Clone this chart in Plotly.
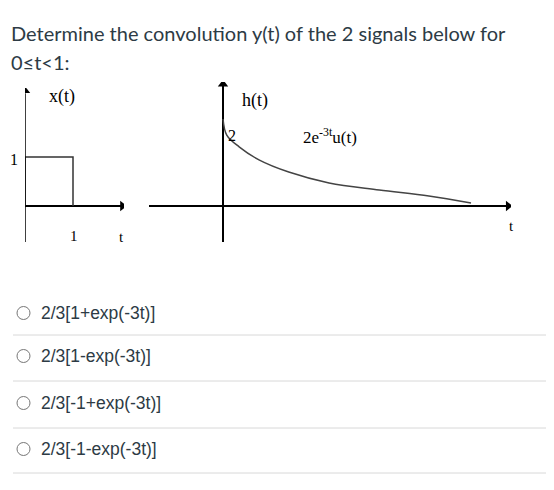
import plotly.graph_objects as go

W, H = 554, 490
x_t = [0, 0, 1, 1]
x_v = [0, 1, 1, 0]
h_t = [0, 0.06, 0.26, 0.58, 1.06, 1.71, 2.52, 3.32, 4.0]
h_v = [2.0, 1.63, 1.36, 1.06, 0.78, 0.53, 0.37, 0.23, 0.07]
title_lines = ["Determine the convolution y(t) of the 2 signals below for", "0≤t<1:"]
options = ["2/3[1+exp(-3t)]", "2/3[1-exp(-3t)]", "2/3[-1+exp(-3t)]", "2/3[-1-exp(-3t)]"]

DX, DY = 9, 8
def px(x): return (x - DX) / W
def py(y): return 1 - (y - DY) / H

fig = go.Figure()
line = dict(color="#333", width=1.5)
fig.add_trace(go.Scatter(x=x_t, y=x_v, mode="lines", line=line, xaxis="x", yaxis="y"))
fig.add_trace(go.Scatter(x=[2.03], y=[0], mode="markers", marker=dict(symbol="triangle-right", size=9, color="black"), xaxis="x", yaxis="y"))
fig.add_trace(go.Scatter(x=[0], y=[2.35], mode="markers", marker=dict(symbol="triangle-up", size=9, color="black"), xaxis="x", yaxis="y"))
fig.add_trace(go.Scatter(x=h_t, y=h_v, mode="lines", line=dict(color="#444", width=1.5, shape="spline"), xaxis="x2", yaxis="y2"))
fig.add_trace(go.Scatter(x=[4.6], y=[0], mode="markers", marker=dict(symbol="triangle-right", size=9, color="black"), xaxis="x2", yaxis="y2"))
fig.add_trace(go.Scatter(x=[0], y=[2.8], mode="markers", marker=dict(symbol="triangle-up", size=9, color="black"), xaxis="x2", yaxis="y2"))

ax = dict(showgrid=False, showticklabels=False, zeroline=True, zerolinecolor="black", zerolinewidth=1.5, fixedrange=True)
fig.update_layout(
    width=W, height=H, margin=dict(l=0, r=0, t=0, b=0), showlegend=False,
    paper_bgcolor="white", plot_bgcolor="rgba(0,0,0,0)",
    xaxis=dict(ax, domain=[px(26), px(125)], range=[0, 2.0625], zeroline=False),
    yaxis=dict(ax, domain=[py(242), py(88)], range=[-0.735, 2.408]),
    xaxis2=dict(ax, domain=[px(150), px(512)], range=[-1.194, 4.645], anchor="y2"),
    yaxis2=dict(ax, domain=[py(242), py(82)], range=[-0.828, 2.851], anchor="x2"),
)
fig.add_shape(type="line", xref="x", yref="y", x0=0, x1=0, y0=-0.735, y1=2.3, line=dict(color="black", width=1.5))

def txt(x, y, s, size=15, family="Liberation Serif", color="black", anchor="left"):
    fig.add_annotation(x=px(x), y=py(y), xref="paper", yref="paper", text=s, showarrow=False,
                       xanchor=anchor, yanchor="middle", font=dict(family=family, size=size, color=color))

sans = "Lato"
txt(10, 33, title_lines[0], 20, sans, "#2d3b45")
txt(10, 62, title_lines[1], 20, sans, "#2d3b45")
txt(48, 97, "x(t)", 18)
txt(9, 160, "1", 16)
txt(75, 236, "1", 15, anchor="center")
txt(122, 237, "t", 15, anchor="center")
txt(241, 100, "h(t)", 18)
txt(227, 135, "2", 16)
txt(302, 136, "2e<sup>-3t</sup>u(t)", 17)
txt(512, 226, "t", 15, anchor="center")

ys = [313, 356, 403, 449]
for y, o in zip(ys, options):
    fig.add_shape(type="circle", xref="paper", yref="paper", x0=px(18), x1=px(31), y0=py(y + 6.5), y1=py(y - 6.5),
                  line=dict(color="#777", width=1))
    txt(40, y, o, 17.5, "Liberation Sans", "#2d3b45")
for y in [335, 381, 428, 473]:
    fig.add_shape(type="line", xref="paper", yref="paper", x0=px(14), x1=px(552), y0=py(y), y1=py(y),
                  line=dict(color="#d8d8d8", width=1))

fig.write_html("out.html")
